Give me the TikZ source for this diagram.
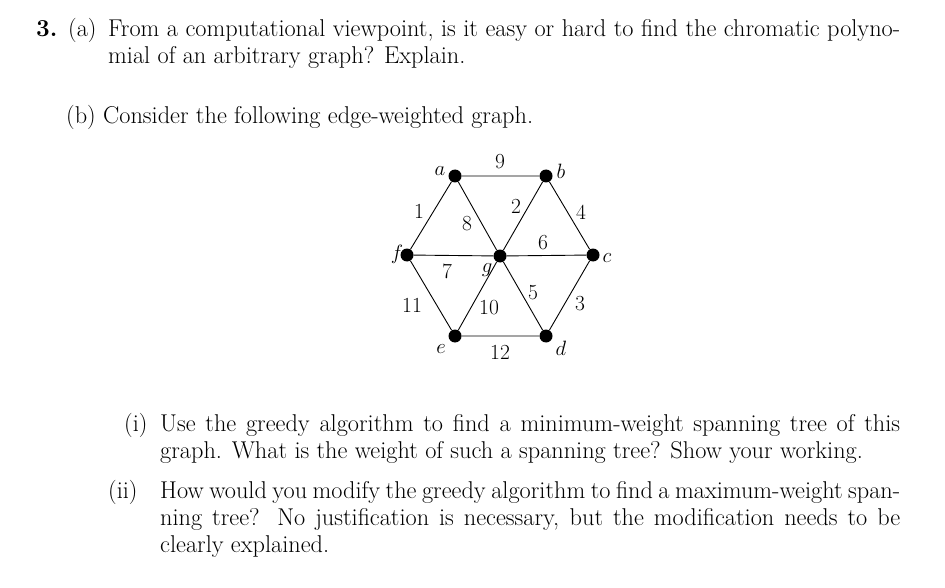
\documentclass[tikz,border=0pt]{standalone}
\begin{document}
\begin{tikzpicture}[x=1pt,y=-1pt,
 txt/.style={anchor=base west,inner sep=0pt,font=\fontsize{24.3}{29}\selectfont},
 lbl/.style={inner sep=0pt,font=\fontsize{21.5}{26}\selectfont},
 vtx/.style={circle,fill=black,inner sep=0pt,minimum size=13pt},
 edge/.style={line width=0.9pt}]
\useasboundingbox (0,0) rectangle (945,588);
\node[txt] (n3) at (36,37) {\textbf{3.}};
\node[txt] (pa) at (68,37) {(a)};
\node[txt] (l1) at (108,37) {\makebox[792pt][s]{From a computational viewpoint, is it easy or hard to find the chromatic polyno-}};
\node[txt] (l2) at (108,64) {mial of an arbitrary graph? Explain.};
\node[txt] (pb) at (66,124) {(b) Consider the following edge-weighted graph.};
\node[txt] (pi) at (124,431) {(i)};
\node[txt] (l3) at (160,431) {\makebox[740pt][s]{Use the greedy algorithm to find a minimum-weight spanning tree of this}};
\node[txt] (l4) at (160,458) {graph. What is the weight of such a spanning tree? Show your working.};
\node[txt] (pii) at (108,498) {(ii)};
\node[txt] (l5) at (160,498) {\makebox[740pt][s]{How would you modify the greedy algorithm to find a maximum-weight span-}};
\node[txt] (l6) at (160,525) {\makebox[740pt][s]{ning tree? No justification is necessary, but the modification needs to be}};
\node[txt] (l7) at (160,552) {clearly explained.};
% graph
\node[vtx] (a) at (455,176) {};
\node[vtx] (b) at (546,176) {};
\node[vtx] (c) at (593,255) {};
\node[vtx] (d) at (546,336) {};
\node[vtx] (e) at (455,336) {};
\node[vtx] (f) at (407,255) {};
\node[vtx] (g) at (500,256) {};
\draw[edge] (a)--(b) (b)--(c) (c)--(d) (d)--(e) (e)--(f) (f)--(a)
 (g)--(a) (g)--(b) (g)--(c) (g)--(d) (g)--(e) (g)--(f);
\node[lbl] at (440,171) {$a$};
\node[lbl] at (561,171) {$b$};
\node[lbl] at (607,258) {$c$};
\node[lbl] at (561,348) {$d$};
\node[lbl] at (441,349) {$e$};
\node[lbl] at (397,254) {$f$};
\node[lbl] at (487,270) {$g$};
\node[lbl] at (500,162) {9};
\node[lbl] at (419,211) {1};
\node[lbl] at (581,212) {4};
\node[lbl] at (516,206) {2};
\node[lbl] at (467,224) {8};
\node[lbl] at (543,243) {6};
\node[lbl] at (447,271) {7};
\node[lbl] at (533,293) {5};
\node[lbl] at (412,305) {11};
\node[lbl] at (489,308) {10};
\node[lbl] at (580,304) {3};
\node[lbl] at (500,352) {12};
\end{tikzpicture}
\end{document}
